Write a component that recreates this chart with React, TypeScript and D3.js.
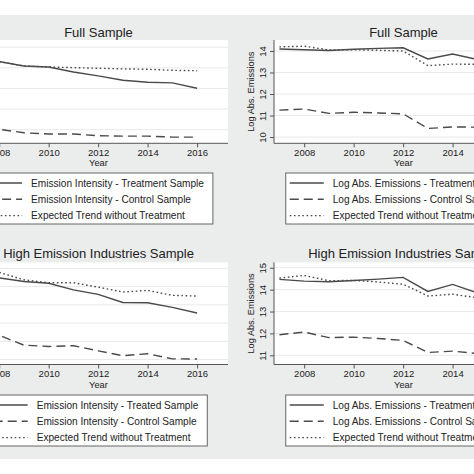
import React, { useEffect, useRef } from "react";
import * as d3 from "d3";

// years on the x axis
const years = [2007, 2008, 2009, 2010, 2011, 2012, 2013, 2014, 2015, 2016];
const xTicks = [2008, 2010, 2012, 2014, 2016];

// full sample - emission intensity (left axis is cropped off in the original)
const fullIntensityTreated = [4.48, 4.3, 4.09, 4.04, 3.8, 3.61, 3.4, 3.3, 3.27, 3.01];
const fullIntensityControl = [1.18, 1.02, 0.85, 0.79, 0.79, 0.71, 0.69, 0.69, 0.64, 0.64];
const fullIntensityExpected = [4.48, 4.3, 4.09, 4.04, 4.01, 3.98, 3.95, 3.93, 3.88, 3.86];
const fullIntensityTicks = [1, 2, 3, 4, 5];

// full sample - log absolute emissions
const fullLogTreated = [14.09, 14.06, 14.02, 14.08, 14.12, 14.15, 13.63, 13.86, 13.6, 13.55];
const fullLogControl = [11.25, 11.3, 11.1, 11.15, 11.12, 11.08, 10.4, 10.47, 10.46, 10.45];
const fullLogExpected = [14.19, 14.22, 14.05, 14.06, 14.03, 14.0, 13.32, 13.39, 13.38, 13.35];
const fullLogTicks = [10, 11, 12, 13, 14];

// high emission industries - emission intensity
const highIntensityTreated = [5.6, 5.48, 5.28, 5.18, 4.82, 4.57, 4.13, 4.11, 3.86, 3.55];
const highIntensityControl = [2.2, 2.33, 1.79, 1.72, 1.76, 1.48, 1.21, 1.32, 1.04, 1.03];
const highIntensityExpected = [6.0, 5.78, 5.37, 5.21, 5.21, 4.97, 4.7, 4.79, 4.52, 4.48];
const highIntensityTicks = [1, 2, 3, 4, 5, 6];

// high emission industries - log absolute emissions
const highLogTreated = [14.47, 14.39, 14.36, 14.42, 14.48, 14.56, 13.92, 14.24, 13.85, 13.8];
const highLogControl = [11.94, 12.06, 11.81, 11.83, 11.77, 11.68, 11.13, 11.19, 11.08, 11.05];
const highLogExpected = [14.53, 14.65, 14.41, 14.42, 14.35, 14.25, 13.71, 13.79, 13.63, 13.6];
const highLogTicks = [11, 12, 13, 14, 15];

const fullIntensityLabels = [
  "Emission Intensity - Treatment Sample",
  "Emission Intensity - Control Sample",
  "Expected Trend without Treatment",
];
const highIntensityLabels = [
  "Emission Intensity - Treated Sample",
  "Emission Intensity - Control Sample",
  "Expected Trend without Treatment",
];
const logLabels = [
  "Log Abs. Emissions - Treatment Sample",
  "Log Abs. Emissions - Control Sample",
  "Expected Trend without Treatment",
];

const FONT = "'Liberation Sans', Arial, sans-serif";
const LINE = "#4a4a4a";
const dashes = [null, "9,5", "1.6,2.6"];

const App = () => {
  const ref = useRef<SVGSVGElement>(null);

  useEffect(() => {
    const svg = d3.select(ref.current);
    svg.selectAll("*").remove();

    svg.append("rect").attr("x", 0).attr("y", 15).attr("width", 474).attr("height", 444).attr("fill", "#ebecec");

    const panels = [
      { title: "Full Sample", x: [-31, 228], y: [143.3, 40], dom: [0.34, 5.35], ticks: fullIntensityTicks,
        series: [fullIntensityTreated, fullIntensityControl, fullIntensityExpected], labels: fullIntensityLabels,
        titleY: 32, legTop: 173, ytitle: "Emission Intensity" },
      { title: "Full Sample", x: [274, 533], y: [143.3, 40], dom: [9.71, 14.51], ticks: fullLogTicks,
        series: [fullLogTreated, fullLogControl, fullLogExpected], labels: logLabels,
        titleY: 32, legTop: 173, ytitle: "Log Abs. Emissions" },
      { title: "High Emission Industries Sample", x: [-31, 228], y: [364.5, 262.3], dom: [0.73, 6.33], ticks: highIntensityTicks,
        series: [highIntensityTreated, highIntensityControl, highIntensityExpected], labels: highIntensityLabels,
        titleY: 253, legTop: 395, ytitle: "Emission Intensity" },
      { title: "High Emission Industries Sample", x: [274, 533], y: [364.5, 262.3], dom: [10.58, 15.25], ticks: highLogTicks,
        series: [highLogTreated, highLogControl, highLogExpected], labels: logLabels,
        titleY: 253, legTop: 395, ytitle: "Log Abs. Emissions" },
    ];

    panels.forEach(p => {
      const g = svg.append("g");
      const xs = d3.scaleLinear().domain([2006.78, 2017.25]).range(p.x);
      const ys = d3.scaleLinear().domain(p.dom).range(p.y);
      const [x0, x1] = p.x;
      const [yb, yt] = p.y;

      g.append("rect").attr("x", x0).attr("y", yt).attr("width", x1 - x0).attr("height", yb - yt).attr("fill", "#fff");

      // gridlines
      g.selectAll(".grid").data(p.ticks).join("line").attr("class", "grid")
        .attr("x1", x0).attr("x2", x1).attr("y1", d => ys(d)).attr("y2", d => ys(d))
        .attr("stroke", "#e6e9ea").attr("stroke-width", 1);

      // x axis
      const xa = g.append("g").attr("transform", `translate(0,${yb})`)
        .call(d3.axisBottom(xs).tickValues(xTicks).tickFormat(d3.format("d")).tickSize(4).tickPadding(2));
      xa.select(".domain").attr("stroke", "#555").attr("d", `M${x0},0H${x1}`);
      xa.selectAll(".tick line").attr("stroke", "#555");
      xa.selectAll("text").attr("font-family", FONT).attr("font-size", 9.5).attr("fill", "#222");

      g.append("text").attr("x", (x0 + x1) / 2).attr("y", yb + 23).attr("text-anchor", "middle")
        .attr("font-family", FONT).attr("font-size", 9.3).attr("fill", "#222").text("Year");

      // y axis
      const ya = g.append("g").attr("transform", `translate(${x0},0)`)
        .call(d3.axisLeft(ys).tickValues(p.ticks).tickSize(4).tickFormat(d3.format("d")));
      ya.select(".domain").attr("stroke", "#555").attr("d", `M0,${yt}V${yb}`);
      ya.selectAll(".tick line").attr("stroke", "#555");
      ya.selectAll("text").attr("font-family", FONT).attr("font-size", 9.5).attr("fill", "#222")
        .attr("x", 0).attr("dy", 0).attr("text-anchor", "middle")
        .attr("transform", "translate(-8.5,0) rotate(-90)");

      g.append("text").attr("transform", `translate(${x0 - 20.5},${(yt + yb) / 2}) rotate(-90)`)
        .attr("text-anchor", "middle").attr("font-family", FONT).attr("font-size", 9.2).attr("fill", "#222")
        .text(p.ytitle);

      // lines
      const line = (vals: number[]) =>
        d3.line<number>().x((_, i) => xs(years[i])).y(v => ys(v))(vals);
      [2, 1, 0].forEach(k => {
        g.append("path").attr("d", line(p.series[k])).attr("fill", "none")
          .attr("stroke", LINE).attr("stroke-width", 1.4)
          .attr("stroke-dasharray", dashes[k]);
      });

      // title
      g.append("text").attr("x", (x0 + x1) / 2).attr("y", p.titleY + 4.5).attr("text-anchor", "middle")
        .attr("font-family", FONT).attr("font-size", 13).attr("fill", "#222").text(p.title);

      // legend, centred under the plot
      const lg = g.append("g");
      const box = lg.append("rect");
      const texts = p.labels.map((lab, i) =>
        lg.append("text").attr("y", p.legTop + 10 + i * 16.3 + 3.6)
          .attr("font-family", FONT).attr("font-size", 10.1).attr("fill", "#222").text(lab));
      const tw = d3.max(texts, t => (t.node() as SVGTextElement).getComputedTextLength()) || 170;
      const w = 4 + 34 + 9 + tw + 9;
      const bx = (x0 + x1) / 2 - w / 2;
      box.attr("x", bx).attr("y", p.legTop).attr("width", w).attr("height", 51)
        .attr("fill", "#fff").attr("stroke", "#666").attr("stroke-width", 1);
      texts.forEach(t => t.attr("x", bx + 47));
      p.labels.forEach((_, i) => {
        const yy = p.legTop + 10 + i * 16.3;
        lg.append("line").attr("x1", bx + 4).attr("x2", bx + 38).attr("y1", yy).attr("y2", yy)
          .attr("stroke", LINE).attr("stroke-width", 1.4).attr("stroke-dasharray", dashes[i]);
      });
    });
  }, []);

  return (
    <svg ref={ref} width={474} height={474}
      style={{ position: "absolute", left: 0, top: 0, background: "#fff" }} />
  );
};

export default App;
